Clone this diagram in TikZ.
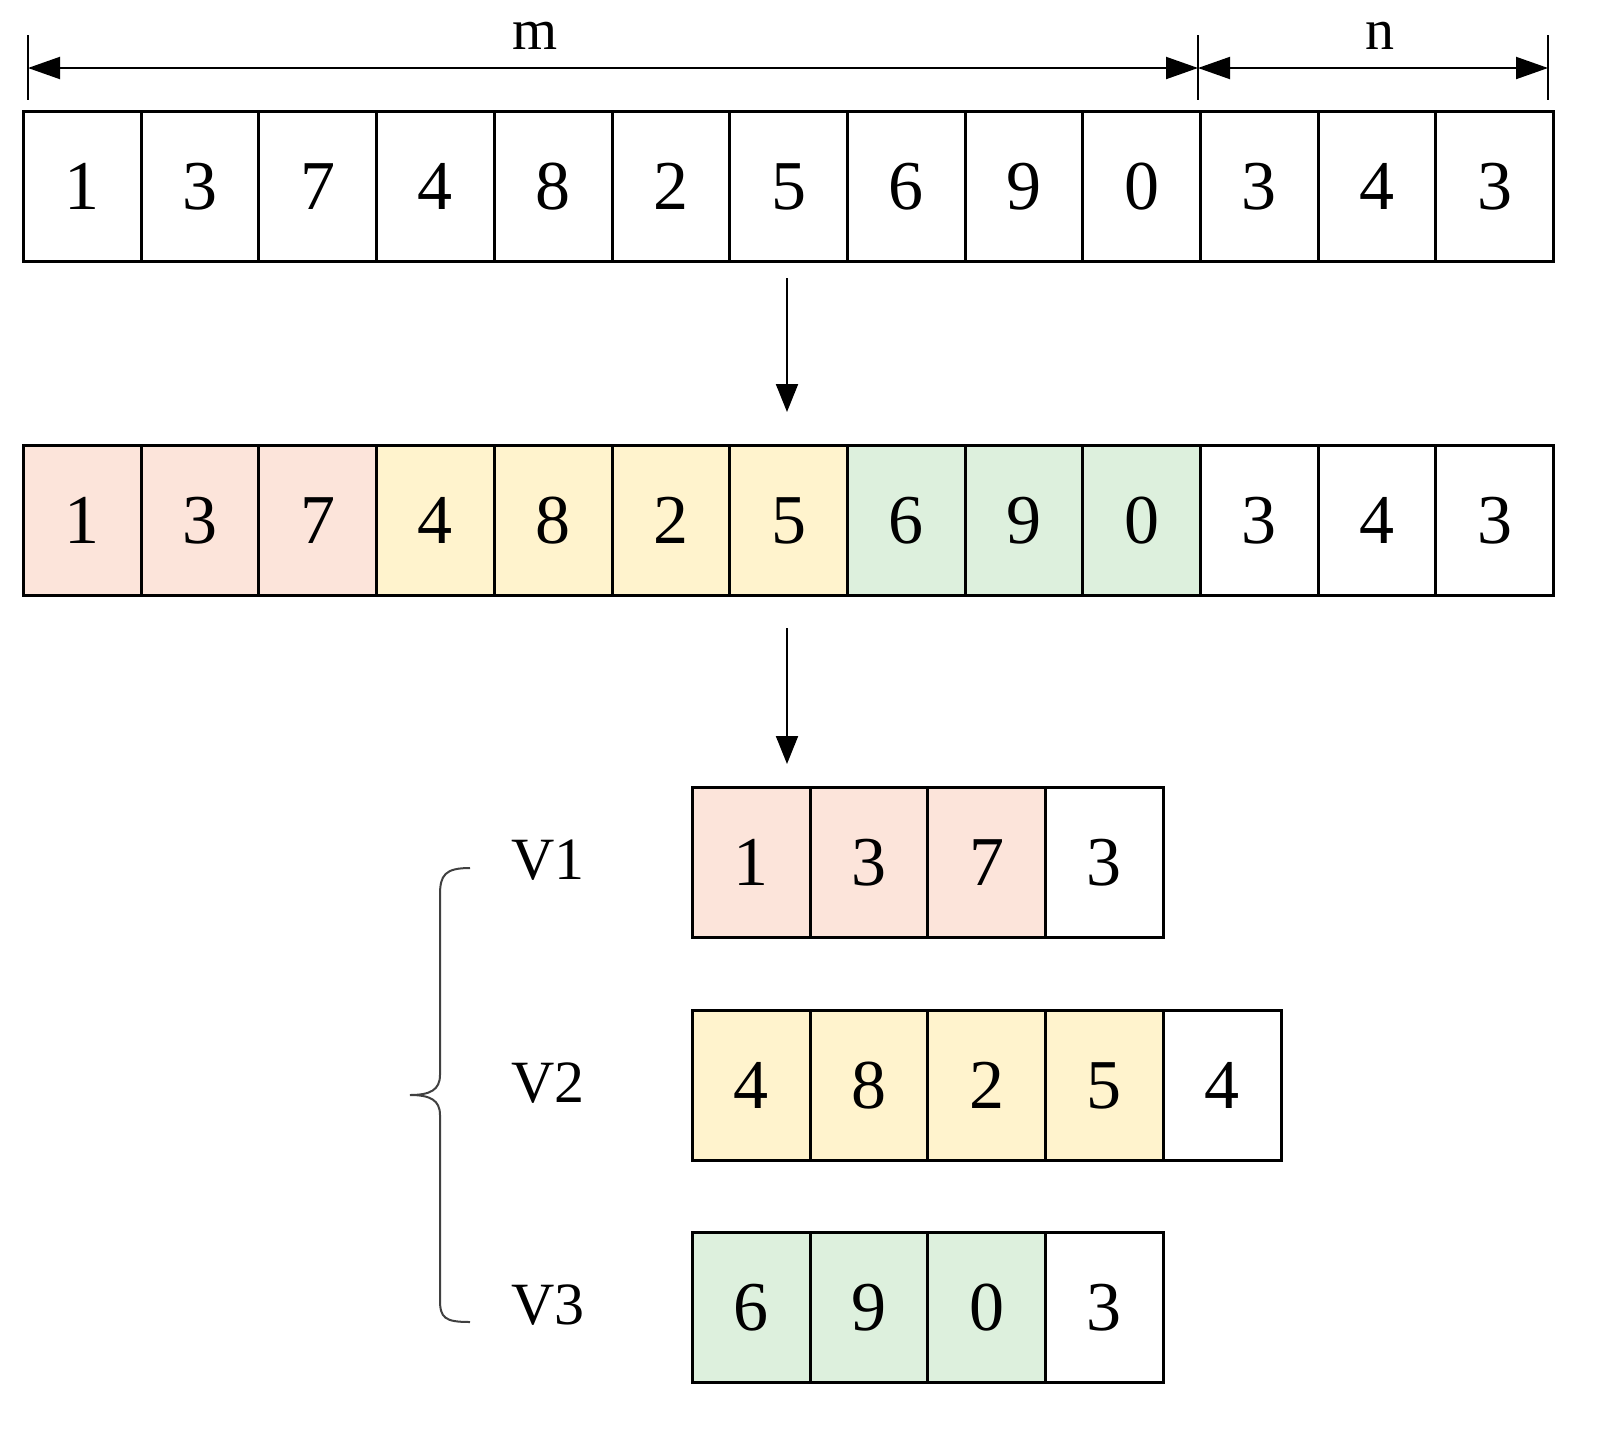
\documentclass[tikz,border=0pt]{standalone}
\usepackage{fontspec}
\setmainfont{Liberation Serif}
\usetikzlibrary{arrows.meta}
\definecolor{cp}{RGB}{252,228,218}
\definecolor{cy}{RGB}{255,243,205}
\definecolor{cg}{RGB}{221,240,221}
\begin{document}
\begin{tikzpicture}[x=1pt,y=-1pt,
  cell/.style={draw=black,line width=3pt,minimum width=117.7pt,minimum height=150pt,inner sep=0pt,font=\fontsize{70}{70}\selectfont,anchor=north west},
  arr/.style={line width=2pt,-{Triangle[length=28pt,width=22pt]}},
  dim/.style={line width=2pt,{Triangle[length=32pt,width=22pt]}-{Triangle[length=32pt,width=22pt]}},
  lab/.style={font=\fontsize{60}{60}\selectfont}]
\useasboundingbox (0,0) rectangle (1607,1441);
% dimension
\draw[line width=1.5pt] (28,35) -- (28,100) (1198,35) -- (1198,100) (1548,35) -- (1548,100);
\coordinate (d0) at (28,68); \coordinate (d1) at (1198,68); \coordinate (d2) at (1548,68);
\draw[dim] (d0) -- (d1);
\draw[dim] (d1) -- (d2);
\node[font=\fontsize{58}{58}\selectfont] (m) at (535,36) {m};
\node[font=\fontsize{58}{58}\selectfont] (n) at (1380,36) {n};
% row 1
\foreach \v [count=\i from 0] in {1,3,7,4,8,2,5,6,9,0,3,4,3}
  \node[cell] (a\i) at (22+117.7*\i,110) {\v};
% row 2
\foreach \v/\c [count=\i from 0] in {1/cp,3/cp,7/cp,4/cy,8/cy,2/cy,5/cy,6/cg,9/cg,0/cg,3/white,4/white,3/white}
  \node[cell,fill=\c] (b\i) at (22+117.7*\i,444) {\v};
\coordinate (s1) at (787,278); \coordinate (e1) at (787,412);
\coordinate (s2) at (787,628); \coordinate (e2) at (787,764);
\draw[arr] (s1) -- (e1);
\draw[arr] (s2) -- (e2);
% bottom rows
\foreach \v/\c [count=\i from 0] in {1/cp,3/cp,7/cp,3/white}
  \node[cell] (v1\i) [fill=\c] at (691+117.7*\i,786) {\v};
\foreach \v/\c [count=\i from 0] in {4/cy,8/cy,2/cy,5/cy,4/white}
  \node[cell] (v2\i) [fill=\c] at (691+117.7*\i,1009) {\v};
\foreach \v/\c [count=\i from 0] in {6/cg,9/cg,0/cg,3/white}
  \node[cell] (v3\i) [fill=\c] at (691+117.7*\i,1231) {\v};
\node[lab] (l1) at (548,860) {V1};
\node[lab] (l2) at (548,1083) {V2};
\node[lab] (l3) at (548,1305) {V3};
% brace
\draw[line width=2pt,black!75] (470,868) .. controls (445,868) and (440,875) .. (440,895)
  -- (440,1075) .. controls (440,1090) and (430,1095) .. (410,1095)
  (410,1095) .. controls (430,1095) and (440,1100) .. (440,1115)
  -- (440,1300) .. controls (440,1318) and (445,1322) .. (470,1322);
\end{tikzpicture}
\end{document}
